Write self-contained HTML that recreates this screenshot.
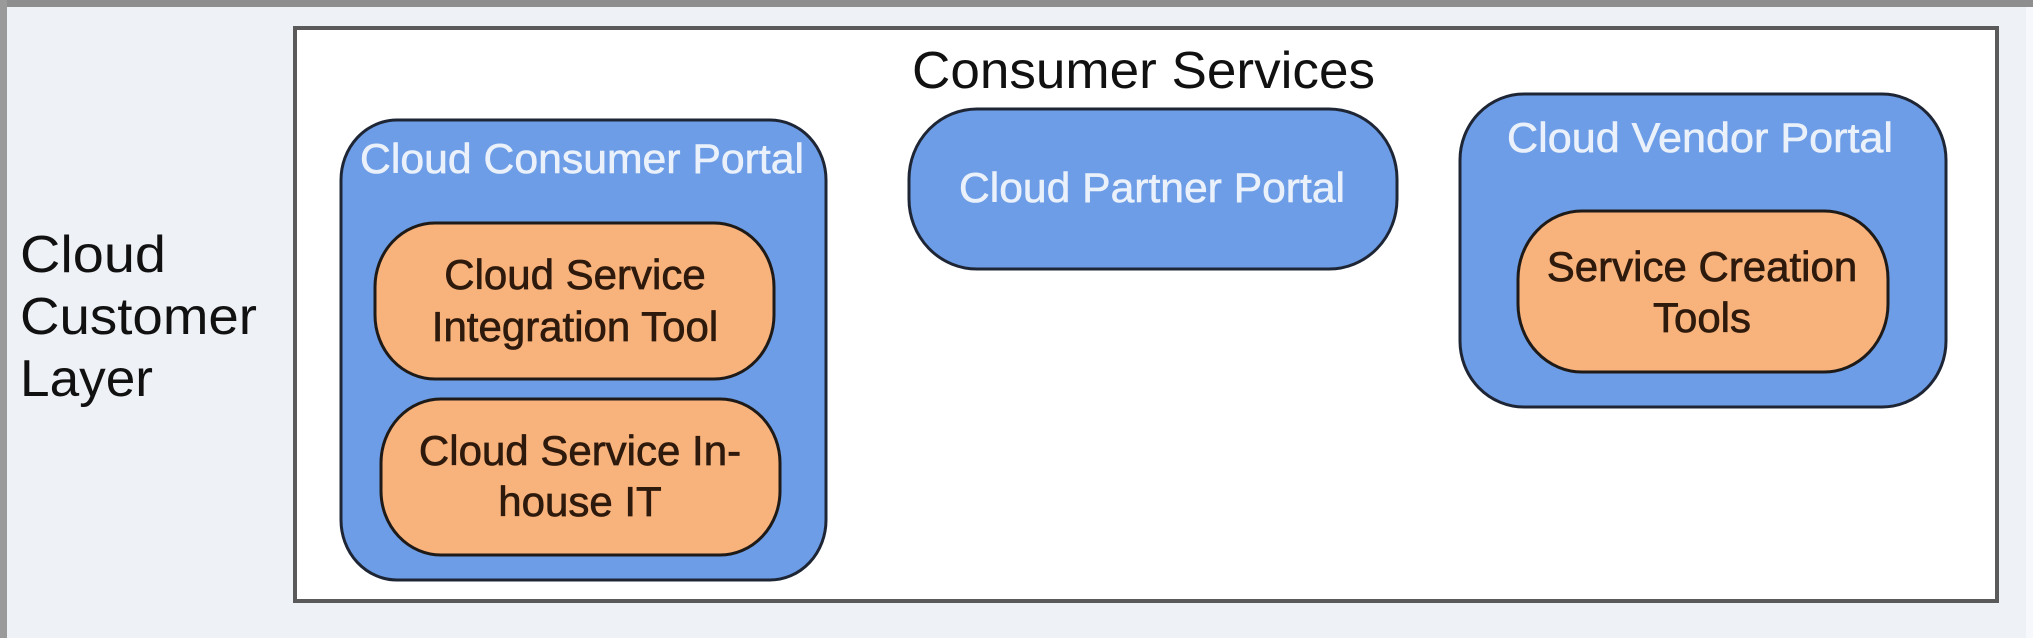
<!DOCTYPE html>
<html><head><meta charset="utf-8"><style>
html,body{margin:0;padding:0;background:#eef1f6;}
svg{display:block;}
</style></head><body>
<svg width="2033" height="638" viewBox="0 0 2033 638" xmlns="http://www.w3.org/2000/svg" font-family="'Liberation Sans', Arial, sans-serif">
  <rect x="0" y="0" width="2033" height="638" fill="#eef1f6"/>
  <rect x="0" y="0" width="2033" height="7" fill="#8e8e8e"/>
  <rect x="0" y="0" width="7" height="638" fill="#9a9a9a"/>
  <rect x="2026" y="7" width="7" height="631" fill="#f7f8fb"/>
  <!-- inner white box -->
  <rect x="295" y="28" width="1702" height="573" fill="#ffffff" stroke="#5a5a5a" stroke-width="4"/>

  <!-- left label -->
  <g font-size="52" fill="#111">
    <text x="20" y="272" textLength="146" lengthAdjust="spacingAndGlyphs">Cloud</text>
    <text x="20" y="334" textLength="237" lengthAdjust="spacingAndGlyphs">Customer</text>
    <text x="20" y="396" textLength="133" lengthAdjust="spacingAndGlyphs">Layer</text>
  </g>

  <text x="912" y="88" font-size="52" fill="#111" textLength="463" lengthAdjust="spacingAndGlyphs">Consumer Services</text>

  <!-- Cloud Consumer Portal -->
  <rect x="341" y="120" width="485" height="460" rx="56" ry="60" fill="#6d9de6" stroke="#1e2636" stroke-width="3"/>
  <text x="360" y="173" font-size="42" fill="#eaf1fb" stroke="#eaf1fb" stroke-width="0.6" textLength="444" lengthAdjust="spacingAndGlyphs">Cloud Consumer Portal</text>

  <rect x="375" y="223" width="399" height="156" rx="60" ry="64" fill="#f8b27c" stroke="#1e1a18" stroke-width="3"/>
  <g font-size="42" fill="#2e1a0c" stroke="#2e1a0c" stroke-width="0.7" text-anchor="middle">
    <text x="575" y="289">Cloud Service</text>
    <text x="575" y="341">Integration Tool</text>
  </g>

  <rect x="381" y="399" width="399" height="156" rx="60" ry="64" fill="#f8b27c" stroke="#1e1a18" stroke-width="3"/>
  <g font-size="42" fill="#2e1a0c" stroke="#2e1a0c" stroke-width="0.7" text-anchor="middle">
    <text x="580" y="465">Cloud Service In-</text>
    <text x="580" y="516">house IT</text>
  </g>

  <!-- Cloud Partner Portal -->
  <rect x="909" y="109" width="488" height="160" rx="68" ry="70" fill="#6d9de6" stroke="#1e2636" stroke-width="3"/>
  <text x="959" y="202" font-size="42" fill="#eaf1fb" stroke="#eaf1fb" stroke-width="0.6" textLength="386" lengthAdjust="spacingAndGlyphs">Cloud Partner Portal</text>

  <!-- Cloud Vendor Portal -->
  <rect x="1460" y="94" width="486" height="313" rx="64" ry="66" fill="#6d9de6" stroke="#1e2636" stroke-width="3"/>
  <text x="1507" y="152" font-size="42" fill="#eaf1fb" stroke="#eaf1fb" stroke-width="0.6" textLength="386" lengthAdjust="spacingAndGlyphs">Cloud Vendor Portal</text>

  <rect x="1518" y="211" width="370" height="161" rx="64" ry="68" fill="#f8b27c" stroke="#1e1a18" stroke-width="3"/>
  <g font-size="42" fill="#2e1a0c" stroke="#2e1a0c" stroke-width="0.7" text-anchor="middle">
    <text x="1702" y="281">Service Creation</text>
    <text x="1702" y="332">Tools</text>
  </g>
</svg>
</body></html>
